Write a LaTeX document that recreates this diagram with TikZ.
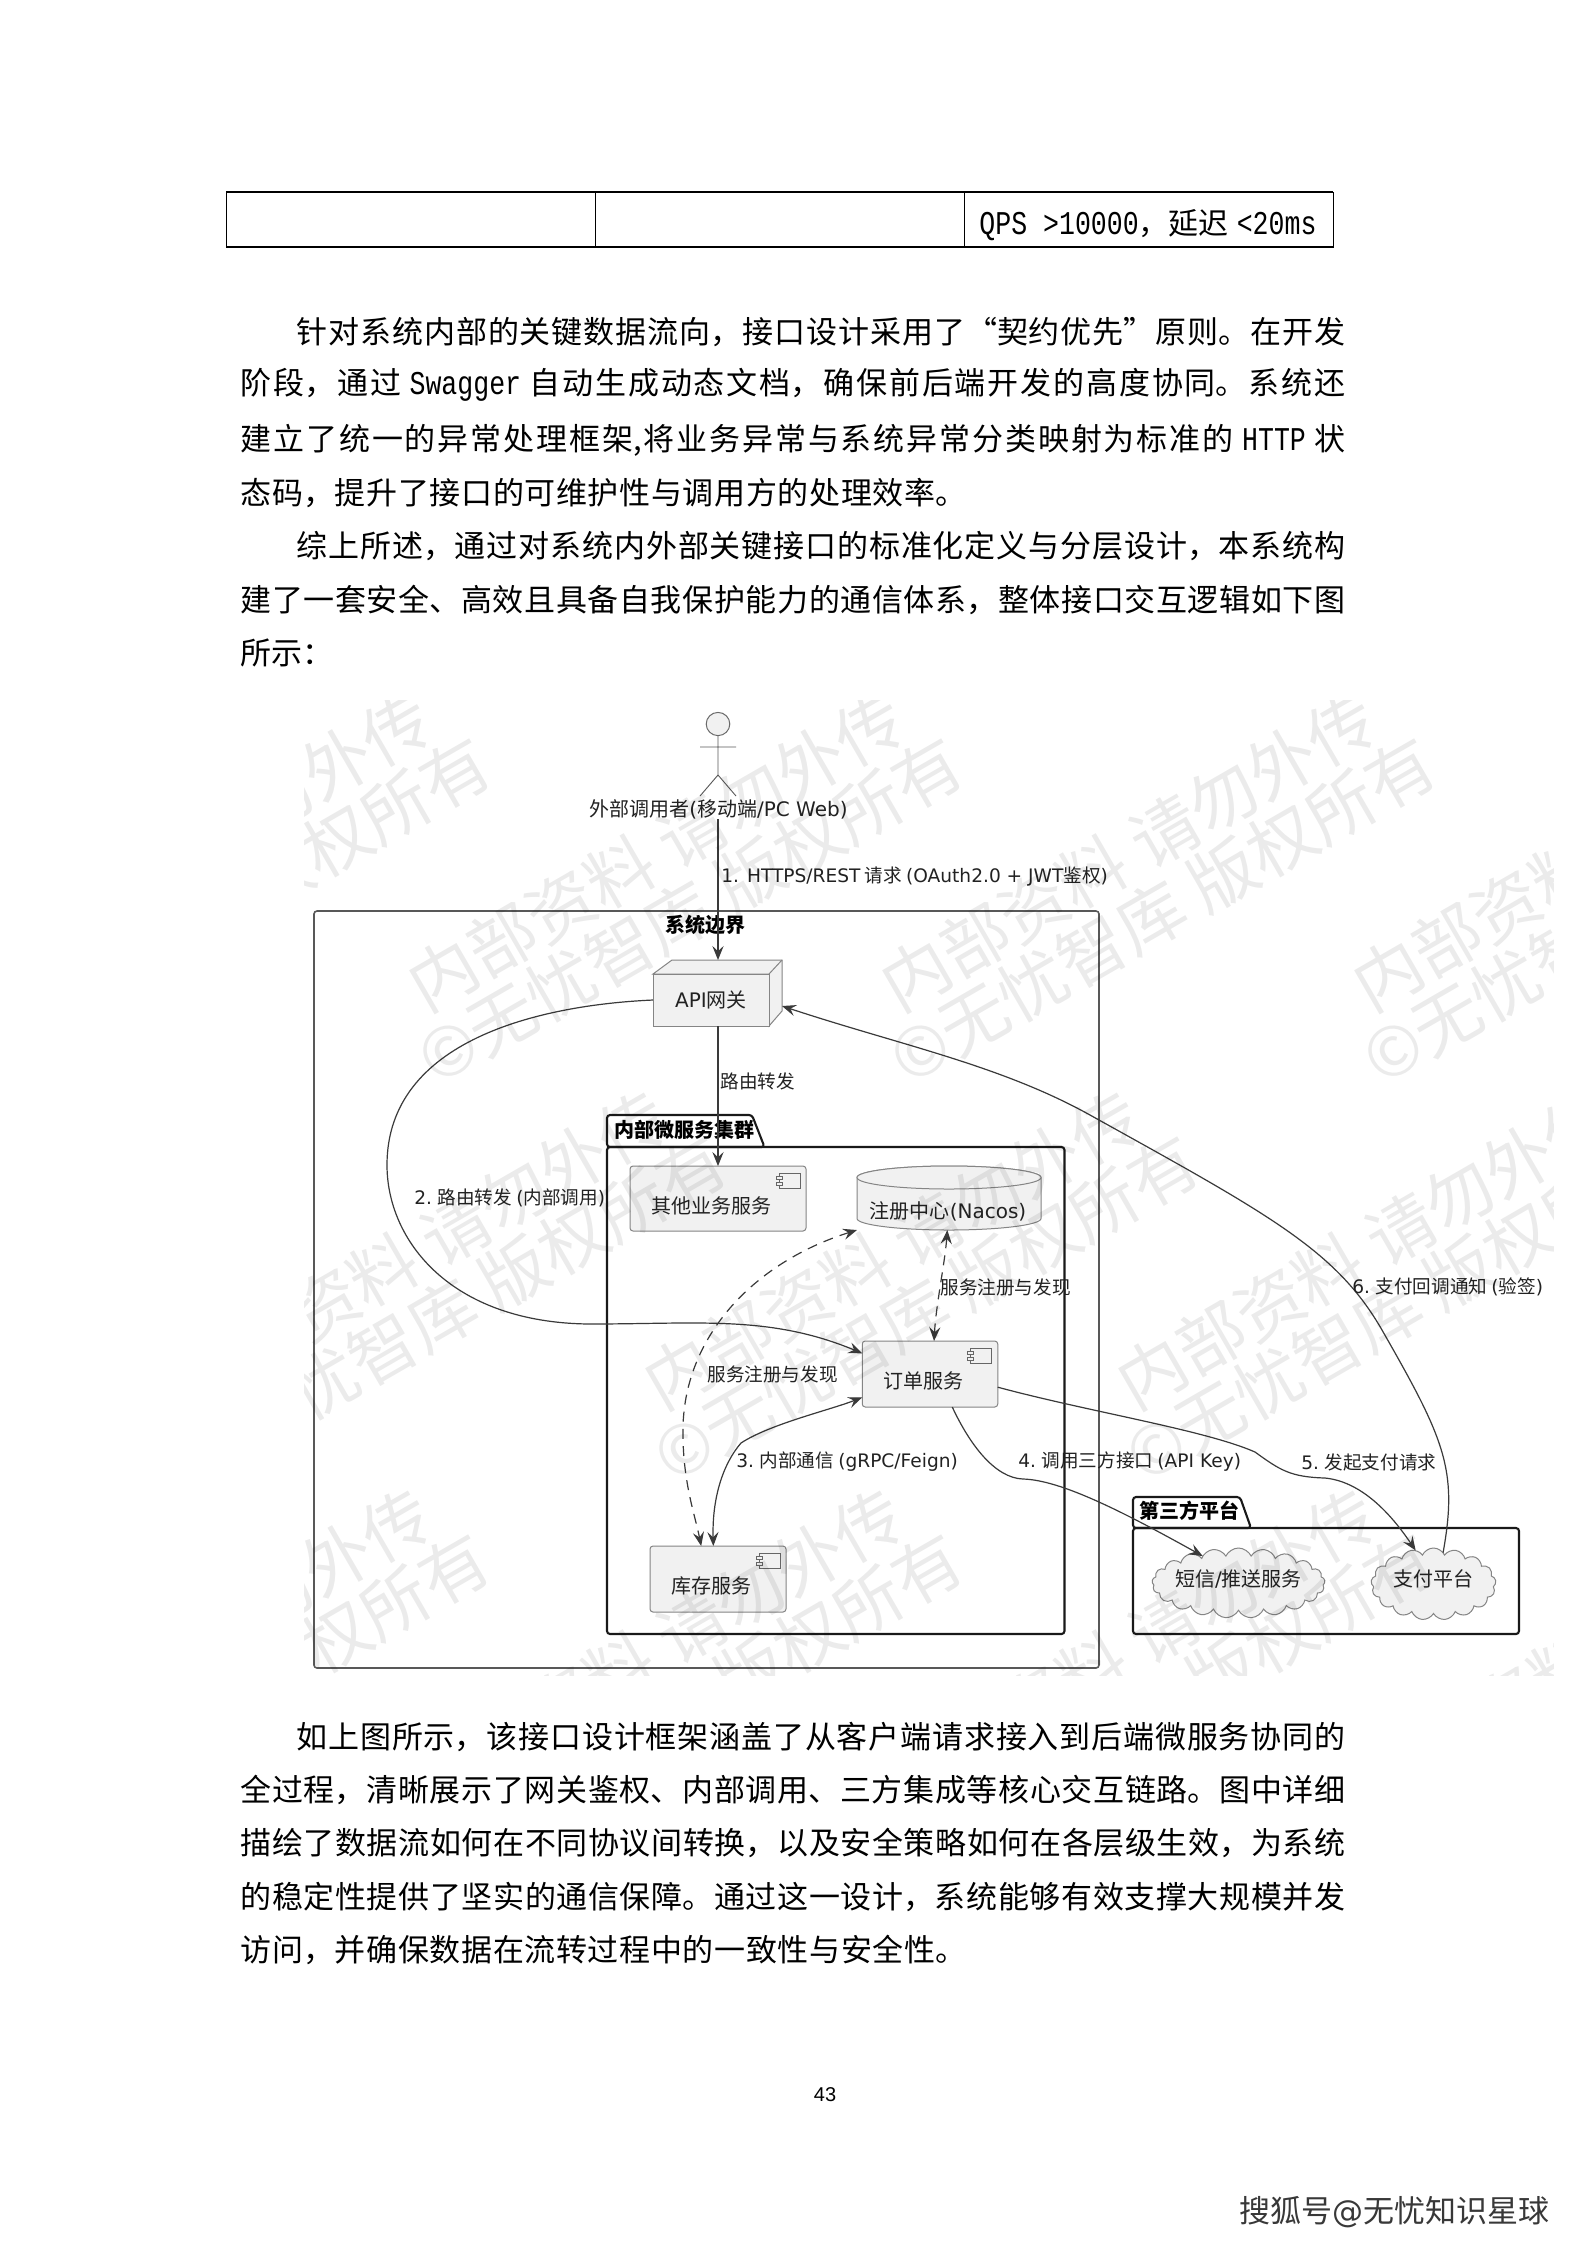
\documentclass[tikz,border=0pt]{standalone}
\usepackage{fontspec}
\usetikzlibrary{arrows.meta,shapes.symbols,shapes.geometric,calc}
\setmainfont{Noto Sans CJK SC}
\newfontfamily\dglat{DejaVu Sans}
\newfontfamily\monolat[FakeStretch=0.8]{Liberation Mono}
\newfontfamily\pagefont{Liberation Sans}
\XeTeXlinebreaklocale "zh"
\XeTeXlinebreakskip=0pt plus 2pt minus 0.2pt
\tolerance=9999
\hbadness=10000
\hfuzz=20pt
\newcommand\dv[1]{{\dglat #1}}
\newcommand\mo[1]{{\fontsize{16.6pt}{18pt}\monolat #1}}
\newcommand\jl[1]{\parfillskip=0pt\relax #1\par}
% text placed off the node's centre, without changing the node's size
\newcommand\placed[3]{\makebox[0pt]{\hspace{#1}\smash{\raisebox{#2}{#3}}}}
\newcommand\comptext[1]{\placed{-7pt}{-7.3pt}{#1}}
\definecolor{nodefill}{HTML}{F1F1F1}
\definecolor{nodeline}{HTML}{858585}
\definecolor{linkcol}{HTML}{3A3A3A}
\definecolor{inkcol}{HTML}{222222}
\tikzset{
  bodyline/.style={anchor=west,inner sep=0pt,outer sep=0pt,font=\fontsize{15.5pt}{18pt}\selectfont,text width=#1,align=justify,text=black},
  bodylast/.style={anchor=west,inner sep=0pt,outer sep=0pt,font=\fontsize{15.5pt}{18pt}\selectfont,text=black},
  cell/.style={draw=black,line width=.45pt,minimum width=184.5pt,minimum height=27.5pt,inner sep=0pt,outer sep=0pt},
  sysframe/.style={draw=linkcol!85,line width=.8pt,rounded corners=1.5pt,inner sep=0pt,outer sep=0pt},
  pkgframe/.style={draw=black!90,line width=1.05pt,rounded corners=1.5pt,inner sep=0pt,outer sep=0pt},
  title/.style={font=\fontsize{10pt}{12pt}\selectfont\bfseries,inner sep=0pt,text=black},
  nodetext/.style={font=\fontsize{10pt}{12pt}\selectfont,text=inkcol},
  edgelabel/.style={anchor=west,inner sep=0pt,font=\fontsize{9.3pt}{11pt}\selectfont,text=inkcol},
  box/.style={draw=nodeline,fill=nodefill,line width=.5pt,inner sep=0pt,outer sep=0pt,font=\fontsize{10pt}{12pt}\selectfont,text=inkcol},
  comp/.style={box,rounded corners=1.5pt},
  cloudbox/.style={draw=nodeline,fill=nodefill,line width=.5pt,cloud,cloud ignores aspect,inner sep=0pt,outer sep=0pt,font=\fontsize{10pt}{12pt}\selectfont,text=inkcol},
  link/.style={draw=linkcol,line width=.6pt,-{Stealth[length=7pt,width=5.6pt,inset=2.6pt]}},
  both/.style={draw=linkcol,line width=.6pt,{Stealth[length=7pt,width=5.6pt,inset=2.6pt]}-{Stealth[length=7pt,width=5.6pt,inset=2.6pt]}},
  dashlink/.style={both,dash pattern=on 5pt off 3.6pt},
  wmark/.style={font=\fontsize{34pt}{34pt}\selectfont,text=black,text opacity=.08,rotate=30,align=center,inner sep=0pt}
}
\begin{document}
\begin{tikzpicture}[x=0.5pt,y=-0.5pt]
\useasboundingbox (0,0) rectangle (1587,2245);
\fill[white] (0,0) rectangle (1587,2245);

% table fragment
\node[cell] (cella) at (410.5,219.5) {};
\node[cell] (cellb) at (779.5,219.5) {};
\node[cell] (cellc) at (1148.5,219.5) {};
\draw[line width=.8pt] (cella.north west) -- (cellc.north east);
\draw[line width=.8pt] (cella.south west) -- (cellc.south east);
\node[anchor=west,inner sep=0pt,font=\fontsize{15pt}{18pt}\selectfont] (qps) at (979,225) {\mo{QPS >10000}，延迟\hspace{4pt}\mo{<20ms}};

% body text above
\node[bodyline=524.5pt] (ta) at (296.5,332) {\jl{针对系统内部的关键数据流向，接口设计采用了“契约优先”原则。在开发}};
\node[bodyline=552.5pt] (tb) at (240.5,385) {\jl{阶段，通过 \mo{Swagger} 自动生成动态文档，确保前后端开发的高度协同。系统还}};
\node[bodyline=552.5pt] (tc) at (240.5,440) {\jl{建立了统一的异常处理框架,将业务异常与系统异常分类映射为标准的 \mo{HTTP} 状}};
\node[bodyline=363pt] (td) at (240.5,493) {\jl{态码，提升了接口的可维护性与调用方的处理效率。}};
\node[bodyline=524.5pt] (te) at (296.5,546) {\jl{综上所述，通过对系统内外部关键接口的标准化定义与分层设计，本系统构}};
\node[bodyline=552.5pt] (tf) at (240.5,600) {\jl{建了一套安全、高效且具备自我保护能力的通信体系，整体接口交互逻辑如下图}};
\node[bodylast] (tg) at (240.5,653) {所示：};

% frames
\node[sysframe,minimum width=392.5pt,minimum height=378.5pt] (sys) at (706.5,1289.5) {};
\draw[pkgframe,fill=white] (607,1147) -- (607,1115) -- (752,1115) -- (764.5,1147) -- cycle;
\node[pkgframe,minimum width=228.75pt,minimum height=243.5pt] (pkg) at (835.75,1390.5) {};
\draw[pkgframe,fill=white] (1133,1528) -- (1133,1497) -- (1240,1497) -- (1251,1528) -- cycle;
\node[pkgframe,minimum width=193pt,minimum height=53pt] (ext) at (1326,1581) {};

% actor
\node[draw=nodeline!80!black,fill=nodefill,line width=.5pt,ellipse,minimum width=11.8pt,minimum height=11.6pt,inner sep=0pt,outer sep=0pt] (head) at (718,724) {};
\coordinate (hip) at (718,775);
\draw[draw=black!65,line width=.45pt] (head.south) -- (hip) (700,747) -- (736,747) (hip) -- (700,796) (hip) -- (736,796);
\node[nodetext,inner sep=0pt] (actor) at (718.5,809) {外部调用者\dv{(}移动端\dv{/PC Web)}};

% gateway
\draw[draw=nodeline,fill=nodefill,line width=.5pt] (653,974) -- (672,960) -- (782,960) -- (782,1011) -- (769,1026) -- (769,974) -- cycle;
\draw[draw=nodeline,line width=.5pt] (769,974) -- (782,960);
\node[box,minimum width=58pt,minimum height=26pt] (api) at (711,1000) {\dv{API}网关};
\coordinate (apitop) at ([shift={(7,-14)}]api.north);
\coordinate (apiside) at ([shift={(13,6)}]api.east);

% services
\node[comp,minimum width=88pt,minimum height=32.5pt] (other) at (718,1198.5) {\comptext{其他业务服务}};
\node[comp,minimum width=67.75pt,minimum height=33pt] (order) at (930,1374) {\comptext{订单服务}};
\node[comp,minimum width=68pt,minimum height=33pt] (stock) at (718,1579) {\comptext{库存服务}};
\foreach \n in {other,order,stock}{
  \draw[draw=black!60,line width=.45pt,fill=nodefill] ([shift={(-27,7)}]\n.north east) rectangle ([shift={(-6,22)}]\n.north east);
  \draw[draw=black!60,line width=.45pt,fill=nodefill] ([shift={(-30,10)}]\n.north east) rectangle ([shift={(-24,13)}]\n.north east);
  \draw[draw=black!60,line width=.45pt,fill=nodefill] ([shift={(-30,16)}]\n.north east) rectangle ([shift={(-24,19)}]\n.north east);
}

% registry cylinder
\draw[draw=nodeline,fill=nodefill,line width=.5pt] (857,1177.5) -- (857,1218.5) arc[start angle=180,end angle=360,x radius=46pt,y radius=5.75pt] -- (1041,1177.5) arc[start angle=0,end angle=180,x radius=46pt,y radius=5.75pt];
\draw[draw=nodeline,fill=nodefill,line width=.5pt] (949,1177.5) ellipse [x radius=46pt,y radius=5.75pt];
\node[inner sep=0pt,outer sep=0pt,minimum width=92pt,minimum height=32pt,font=\fontsize{10pt}{12pt}\selectfont,text=inkcol] (reg) at (949,1198) {\placed{-1pt}{-10.3pt}{注册中心\dv{(Nacos)}}};

% clouds
\node[cloudbox,cloud puffs=21,cloud puff arc=130,minimum width=86.5pt,minimum height=35pt] (sms) at (1238.5,1583) {\placed{0pt}{-1.8pt}{短信\dv{/}推送服务}};
\node[cloudbox,cloud puffs=17,cloud puff arc=130,minimum width=62.5pt,minimum height=36pt] (pay) at (1433.5,1584) {\placed{0pt}{-1.3pt}{支付平台}};

% titles
\node[title] (systitle) at (705.5,925) {系统边界};
\node[title,anchor=west] (pkgtitle) at (614,1130) {内部微服务集群};
\node[title,anchor=west] (exttitle) at (1139,1511) {第三方平台};

% connectors
\draw[link] (actor.south -| apitop) -- (apitop);
\draw[link] (api.south -| other.north) -- (other.north);
\draw[link] (api.west) .. controls (540,1005) and (387,1040) .. (387,1165) .. controls (387,1240) and (450,1323) .. (590,1324) .. controls (700,1324) and (770,1315) .. (order.163);
\draw[dashlink] (reg.south west) .. controls (755,1262) and (685,1335) .. (683,1427) .. controls (682,1480) and (695,1515) .. (stock.117);
\draw[dashlink] (reg.-93) .. controls (945,1262) and (936,1305) .. (order.83);
\draw[both] (stock.98) .. controls (712,1500) and (722,1465) .. (741,1443) .. controls (770,1424) and (830,1410) .. (order.199);
\draw[link] (order.-56) .. controls (970,1445) and (995,1478) .. (1023,1479) .. controls (1060,1480) and (1120,1510) .. (sms.143);
\draw[link] (order.-11) .. controls (1090,1412) and (1205,1430) .. (1255,1452) .. controls (1280,1470) and (1290,1477) .. (1325,1478) .. controls (1365,1482) and (1395,1520) .. (pay.118);
\draw[link] (pay.73) .. controls (1458,1470) and (1445,1440) .. (1382,1330) .. controls (1336,1250) and (1270,1215) .. (1090,1115) .. controls (1000,1065) and (900,1045) .. (apiside);

% edge labels
\node[edgelabel] (la) at (721,877) {\dv{1. HTTPS/REST} 请求 \dv{(OAuth2.0 + JWT}鉴权\dv{)}};
\node[edgelabel] (lb) at (720,1081) {路由转发};
\node[edgelabel] (lc) at (414,1198) {\dv{2.} 路由转发 \dv{(}内部调用\dv{)}};
\node[edgelabel] (ld) at (707,1374) {服务注册与发现};
\node[edgelabel] (le) at (940,1287) {服务注册与发现};
\node[edgelabel] (lf) at (736,1462) {\dv{3.} 内部通信 \dv{(gRPC/Feign)}};
\node[edgelabel] (lg) at (1018,1462) {\dv{4.} 调用三方接口 \dv{(API Key)}};
\node[edgelabel] (lh) at (1301,1462) {\dv{5.} 发起支付请求};
\node[edgelabel] (li) at (1352,1287) {\dv{6.} 支付回调通知 \dv{(}验签\dv{)}};

% watermark
\begin{scope}
\clip (304,700) rectangle (1553,1675);
\foreach \j/\i in {0/-1,0/0,0/1,0/2,1/-1,1/0,1/1,2/-2,2/-1,2/0,2/1}{
  \node[wmark] (wm\j\i) at ({673+472.5*\i+236*\j},{881+398*\j}) {内部资料 请勿外传\\©无忧智库 版权所有};
}
\end{scope}

% body text below
\node[bodyline=524.5pt] (ua) at (296.5,1737) {\jl{如上图所示，该接口设计框架涵盖了从客户端请求接入到后端微服务协同的}};
\node[bodyline=552.5pt] (ub) at (240.5,1790) {\jl{全过程，清晰展示了网关鉴权、内部调用、三方集成等核心交互链路。图中详细}};
\node[bodyline=552.5pt] (uc) at (240.5,1843) {\jl{描绘了数据流如何在不同协议间转换，以及安全策略如何在各层级生效，为系统}};
\node[bodyline=552.5pt] (ud) at (240.5,1897) {\jl{的稳定性提供了坚实的通信保障。通过这一设计，系统能够有效支撑大规模并发}};
\node[bodyline=363pt] (ue) at (240.5,1950) {\jl{访问，并确保数据在流转过程中的一致性与安全性。}};

\node[inner sep=0pt,font=\fontsize{10pt}{12pt}\pagefont\selectfont] (pagenum) at (825,2095) {43};
\node[anchor=east,inner sep=0pt,font=\fontsize{15.5pt}{18pt}\selectfont,text=black!78] (sohu) at (1550,2212) {搜狐号\dv{@}无忧知识星球};
\end{tikzpicture}
\end{document}
